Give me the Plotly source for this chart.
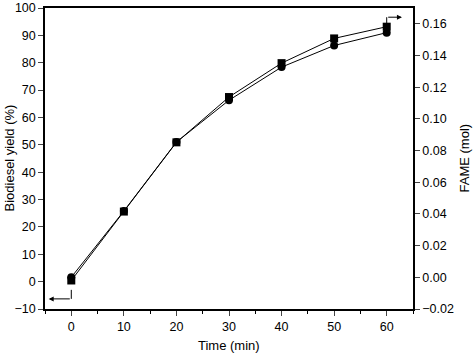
import plotly.graph_objects as go

time_min = [0, 10, 20, 30, 40, 50, 60]
biodiesel_yield = [1.6, 25.8, 51.0, 66.3, 78.4, 86.3, 91.0]
fame_mol = [-0.002, 0.0415, 0.0852, 0.1138, 0.1352, 0.1508, 0.1582]

font = "Liberation Sans, Arial, sans-serif"

fig = go.Figure()
fig.add_trace(go.Scatter(
    x=time_min, y=biodiesel_yield, mode="lines+markers",
    line=dict(color="black", width=1),
    marker=dict(symbol="circle", size=8, color="black"),
    name="Biodiesel yield", yaxis="y"))
fig.add_trace(go.Scatter(
    x=time_min, y=fame_mol, mode="lines+markers",
    line=dict(color="black", width=1),
    marker=dict(symbol="square", size=8, color="black"),
    name="FAME", yaxis="y2"))

# arrow annotations indicating axes
fig.add_shape(type="line", x0=0, x1=0, y0=-3.0, y1=-6.3, xref="x", yref="y",
              line=dict(color="black", width=1))
fig.add_annotation(x=-4.3, y=-6.3, ax=0, ay=-6.3, xref="x", yref="y", axref="x", ayref="y",
                   showarrow=True, arrowhead=2, arrowsize=1, arrowwidth=1, arrowcolor="black", text="")
fig.add_shape(type="line", x0=60, x1=60, y0=0.1605, y1=0.1642, xref="x", yref="y2",
              line=dict(color="black", width=1))
fig.add_annotation(x=62.9, y=0.1642, ax=60, ay=0.1642, xref="x", yref="y2", axref="x", ayref="y2",
                   showarrow=True, arrowhead=2, arrowsize=1, arrowwidth=1, arrowcolor="black", text="")

# axis titles as annotations
fig.add_annotation(text="Time (min)", x=0.5, y=0, xref="paper", yref="paper",
                   yshift=-36, xanchor="center", yanchor="middle", showarrow=False,
                   font=dict(size=13))
fig.add_annotation(text="Biodiesel yield (%)", x=0, y=0.5, xref="paper", yref="paper",
                   xshift=-36, textangle=-90, xanchor="center", yanchor="middle", showarrow=False,
                   font=dict(size=13))
fig.add_annotation(text="FAME (mol)", x=1, y=0.5, xref="paper", yref="paper",
                   xshift=51, textangle=-90, xanchor="center", yanchor="middle", showarrow=False,
                   font=dict(size=13))

fig.update_layout(
    width=474, height=358,
    margin=dict(l=45, r=61, t=8, b=49, autoexpand=False),
    paper_bgcolor="white", plot_bgcolor="white",
    showlegend=False,
    font=dict(family=font, size=12, color="black"),
    xaxis=dict(range=[-5, 65], dtick=10, tick0=0, ticks="outside", ticklen=5, tickwidth=1,
               showline=True, linecolor="black", linewidth=1.5, mirror=True, showgrid=False,
               zeroline=False, automargin=False,
               minor=dict(dtick=5, ticks="outside", ticklen=3, tickcolor="black"),
               tickfont=dict(size=12.5)),
    yaxis=dict(range=[-10, 100], dtick=10, ticks="outside", ticklen=5, tickwidth=1,
               showline=True, linecolor="black", linewidth=1.5, showgrid=False, zeroline=False,
               automargin=False, tickfont=dict(size=12.5)),
    yaxis2=dict(range=[-0.02, 0.17], dtick=0.02, tick0=0, tickformat=".2f", overlaying="y", side="right",
                ticks="outside", ticklen=5, tickwidth=1, showline=True, linecolor="black", linewidth=1.5,
                showgrid=False, zeroline=False, automargin=False, tickfont=dict(size=12.5)),
)

fig.write_html("out.html", config={"displayModeBar": False},
               post_script="document.body.style.margin='0';document.body.style.overflow='hidden';")
